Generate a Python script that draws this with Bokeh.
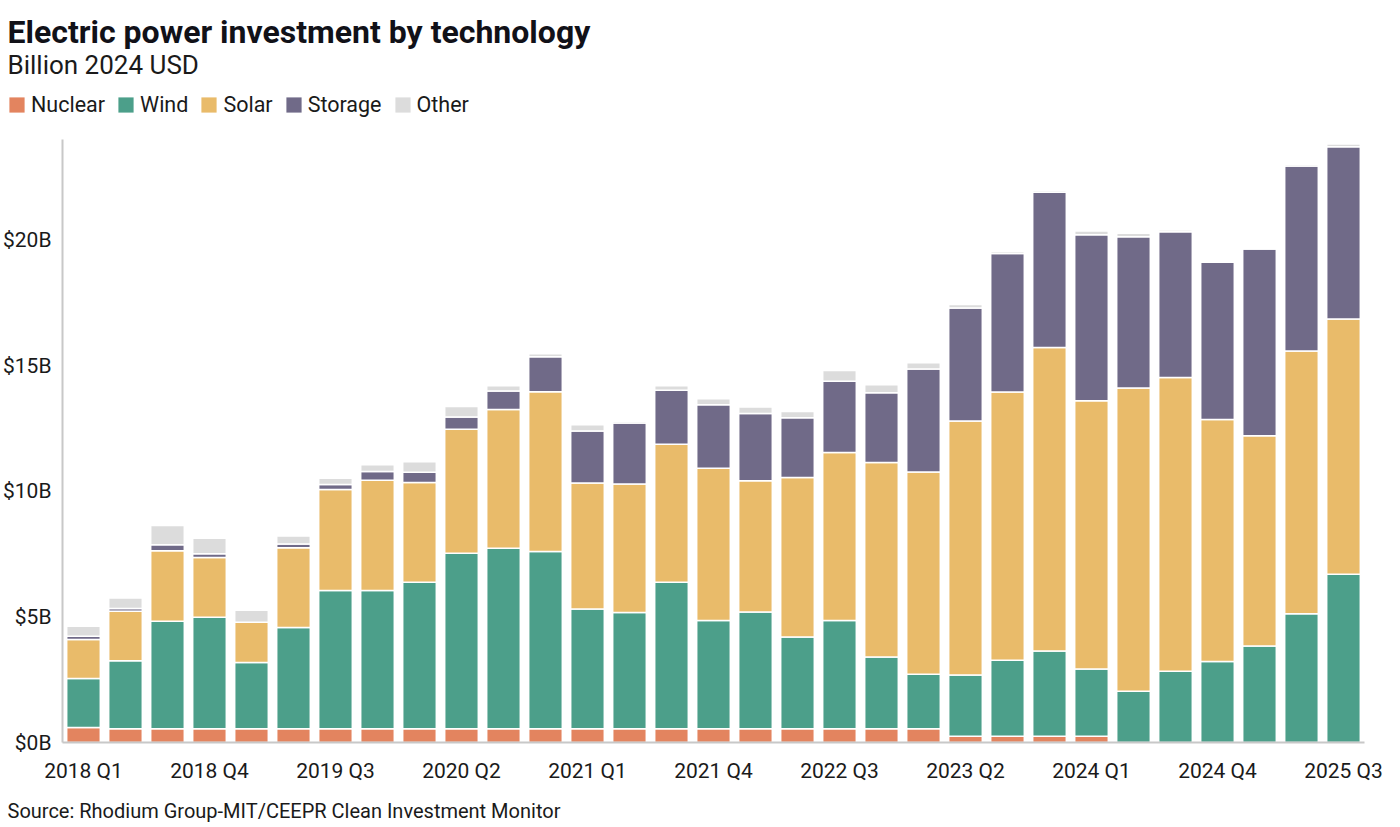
from bokeh.plotting import figure
from bokeh.models import (ColumnDataSource, Range1d, Legend, LegendItem, Label,
                          FixedTicker, PrintfTickFormatter)
from bokeh.embed import file_html
from bokeh.resources import INLINE

# Quarterly investment, billion 2024 USD
quarters = [
    "2018 Q1", "2018 Q2", "2018 Q3", "2018 Q4",
    "2019 Q1", "2019 Q2", "2019 Q3", "2019 Q4",
    "2020 Q1", "2020 Q2", "2020 Q3", "2020 Q4",
    "2021 Q1", "2021 Q2", "2021 Q3", "2021 Q4",
    "2022 Q1", "2022 Q2", "2022 Q3", "2022 Q4",
    "2023 Q1", "2023 Q2", "2023 Q3", "2023 Q4",
    "2024 Q1", "2024 Q2", "2024 Q3", "2024 Q4",
    "2025 Q1", "2025 Q2", "2025 Q3",
]
shown_labels = ["2018 Q1", "2018 Q4", "2019 Q3", "2020 Q2", "2021 Q1", "2021 Q4",
                "2022 Q3", "2023 Q2", "2024 Q1", "2024 Q4", "2025 Q3"]

nuclear = [0.60, 0.55, 0.55, 0.55, 0.55, 0.55, 0.55, 0.55, 0.55, 0.55, 0.55,
           0.55, 0.55, 0.55, 0.55, 0.55, 0.55, 0.55, 0.55, 0.55, 0.55,
           0.25, 0.25, 0.25, 0.25, 0.0, 0.0, 0.0, 0.0, 0.0, 0.0]
wind = [1.95, 2.70, 4.28, 4.44, 2.63, 4.03, 5.50, 5.50, 5.83, 6.98, 7.18,
        7.05, 4.76, 4.62, 5.83, 4.31, 4.64, 3.65, 4.31, 2.85, 2.17,
        2.44, 3.02, 3.39, 2.68, 2.04, 2.84, 3.22, 3.84, 5.12, 6.70]
solar = [1.55, 1.97, 2.80, 2.37, 1.61, 3.17, 4.02, 4.39, 3.97, 4.94, 5.52,
         6.36, 5.02, 5.12, 5.49, 6.06, 5.23, 6.35, 6.68, 7.74, 8.05,
         10.11, 10.68, 12.08, 10.67, 12.07, 11.69, 9.64, 8.37, 10.46, 10.16]
storage = [0.13, 0.11, 0.24, 0.15, 0.0, 0.15, 0.20, 0.35, 0.41, 0.49, 0.74,
           1.39, 2.07, 2.43, 2.15, 2.52, 2.67, 2.38, 2.84, 2.78, 4.10,
           4.49, 5.51, 6.18, 6.61, 6.02, 5.80, 6.25, 7.43, 7.37, 6.85]
other = [0.40, 0.42, 0.77, 0.62, 0.47, 0.32, 0.25, 0.26, 0.41, 0.41, 0.21,
         0.12, 0.25, 0.07, 0.18, 0.24, 0.26, 0.24, 0.43, 0.32, 0.24,
         0.14, 0.08, 0.07, 0.15, 0.14, 0.07, 0.05, 0.02, 0.06, 0.11]

techs = ["Nuclear", "Wind", "Solar", "Storage", "Other"]
colors = ["#E3845F", "#4C9F8A", "#E9BB6A", "#706A88", "#DCDCDC"]
y_ticks = [0, 5, 10, 15, 20]

FONT = "Roboto"
TEXT = "#1a1a1a"
W = 1400
HEADER_H = 139
FOOTER_H = 42
CHART_H = 827 - HEADER_H - FOOTER_H


def text_strip(height):
    """A blank full-width figure whose y axis runs downward in pixels."""
    f = figure(width=W, height=height, x_range=Range1d(0, W),
               y_range=Range1d(height, 0), x_axis_location=None,
               y_axis_location=None, toolbar_location=None, output_backend="svg",
               min_border=0, outline_line_color=None)
    f.grid.visible = False
    return f


# ---------- header: title, subtitle and colour key ----------
header = text_strip(HEADER_H)
header.add_layout(Label(x=7, y=31, text="Electric power investment by technology",
                        text_baseline="middle", text_font=FONT, text_font_size="32px",
                        text_font_style="bold", text_color="#111118"))
header.add_layout(Label(x=7, y=64, text="Billion 2024 USD", text_baseline="middle",
                        text_font=FONT, text_font_size="26px", text_color=TEXT))

# key swatches: one undrawn (NaN) bar per technology, used only by the legend
nan = float("nan")
key_renderers = [header.vbar(x=[nan], top=[nan], width=1, fill_color=c, line_color=None)
                 for c in colors]
key = Legend(items=[LegendItem(label=t, renderers=[r]) for t, r in zip(techs, key_renderers)],
             orientation="horizontal", location=(7, 22), margin=0, padding=0,
             spacing=11, label_standoff=5, glyph_width=19, glyph_height=19,
             border_line_color=None, background_fill_alpha=0,
             label_text_font=FONT, label_text_font_size="21.5px",
             label_text_color=TEXT)
header.add_layout(key, "center")

# ---------- stacked bars ----------
positions = list(range(len(quarters)))
source = ColumnDataSource(dict(pos=positions, quarter=quarters, Nuclear=nuclear,
                               Wind=wind, Solar=solar, Storage=storage, Other=other))

p = figure(x_range=Range1d(-0.5, len(quarters) - 0.5), y_range=Range1d(0, 24),
           width=W, height=CHART_H, output_backend="svg", toolbar_location=None,
           title=None, min_border_left=62, min_border_right=36,
           min_border_top=0, min_border_bottom=40)

p.vbar_stack(techs, x="pos", width=0.8, color=colors, source=source,
             line_color="white", line_width=1.5)

p.xgrid.grid_line_color = None
p.ygrid.grid_line_color = None
p.outline_line_color = None

for ax in (p.xaxis[0], p.yaxis[0]):
    ax.axis_line_color = "#c8c8c8"
    ax.axis_line_width = 2
    ax.major_tick_line_color = None
    ax.minor_tick_line_color = None
    ax.major_label_text_font = FONT
    ax.major_label_text_font_size = "21px"
    ax.major_label_text_color = TEXT

p.yaxis.ticker = FixedTicker(ticks=y_ticks)
p.yaxis.formatter = PrintfTickFormatter(format="$%dB")
p.yaxis.major_label_standoff = 5

label_pos = [quarters.index(q) for q in shown_labels]
p.xaxis.ticker = FixedTicker(ticks=label_pos)
p.xaxis.major_label_overrides = {i: quarters[i] for i in label_pos}
p.xaxis.major_label_standoff = 10

# ---------- footer: source note ----------
footer = text_strip(FOOTER_H)
footer.add_layout(Label(x=7, y=25, text="Source: Rhodium Group-MIT/CEEPR Clean Investment Monitor",
                        text_baseline="middle", text_font=FONT, text_font_size="20px",
                        text_color=TEXT))

open("out.html", "w").write(file_html([header, p, footer], INLINE))
